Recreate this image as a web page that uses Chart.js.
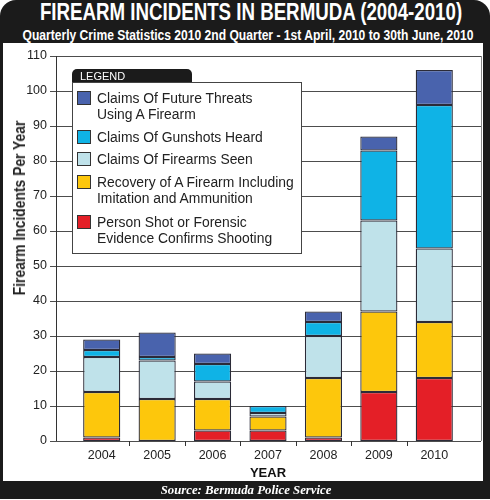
<!DOCTYPE html>
<html>
<head>
<meta charset="utf-8">
<script src="https://cdn.jsdelivr.net/npm/chart.js@4.4.0/dist/chart.umd.min.js"></script>
<style>
  body { margin: 0; width: 490px; height: 500px; position: relative; overflow: hidden; background: #fff;
         font-family: "Liberation Sans", Arial, sans-serif; }
  #frame { position: absolute; left: 0; top: 0; width: 490px; height: 499px; background: #1b1b1b; border-radius: 16px 16px 0 0; }
  #panel { position: absolute; left: 3px; top: 43px; width: 480px; height: 438px; background: #fff; }
  .fit { position: absolute; white-space: nowrap; }
  #title { left: 251px; top: 0px; color: #fff; font-weight: bold; font-size: 23px; }
  #subtitle { left: 248px; top: 25px; color: #fff; font-weight: bold; font-size: 14.5px; }
  #chart { position: absolute; left: 0; top: 0; }
  #ytitle { left: 20px; top: 208px; font-weight: bold; font-size: 16px; color: #222; }
  #legend { position: absolute; left: 72px; top: 82px; width: 228px; height: 170px; border: 1.5px solid #444; background: #fff; }
  #legtab { position: absolute; left: 72px; top: 69px; width: 120px; height: 14px; background: #1b1b1b; border-radius: 5px 5px 0 0;
            color: #fff; font-size: 11px; line-height: 14px; padding-left: 8px; box-sizing: border-box; }
  .item { position: absolute; left: 4px; font-size: 15.5px; line-height: 15.5px; color: #222; }
  .item .sw { position: absolute; left: 0; top: 1px; width: 12px; height: 12px; border: 1px solid #333; }
  .item .tx { position: absolute; left: 20px; top: 0; white-space: nowrap; transform-origin: 0 0; }
  #source { left: 246px; top: 482px; color: #fff; font-family: "Liberation Serif", serif; font-style: italic; font-weight: bold; font-size: 13px; }
</style>
</head>
<body>
<div id="frame"></div>
<div id="panel"></div>
<div id="title" class="fit">FIREARM INCIDENTS IN BERMUDA (2004-2010)</div>
<div id="subtitle" class="fit">Quarterly Crime Statistics 2010 2nd Quarter - 1st April, 2010 to 30th June, 2010</div>
<canvas id="chart" width="490" height="500"></canvas>
<div id="ytitle" class="fit">Firearm Incidents Per Year</div>
<div id="legtab">LEGEND</div>
<div id="legend"></div>
<div id="source" class="fit">Source: Bermuda Police Service</div>
<script>
// Data (bottom of stack first)
const years = ['2004', '2005', '2006', '2007', '2008', '2009', '2010'];
const personShot = [1, 0, 3, 3, 1, 14, 18];
const recovery = [13, 12, 9, 4, 17, 23, 16];
const firearmsSeen = [10, 11, 5, 1, 12, 26, 21];
const gunshotsHeard = [2, 1, 5, 2, 4, 20, 41];
const futureThreats = [3, 7, 3, 0, 3, 4, 10];

const seriesNames = [
    ['Person Shot or Forensic', 'Evidence Confirms Shooting'],
    ['Recovery of A Firearm Including', 'Imitation and Ammunition'],
    ['Claims Of Firearms Seen'],
    ['Claims Of Gunshots Heard'],
    ['Claims Of Future Threats', 'Using A Firearm']
];
const seriesValues = [personShot, recovery, firearmsSeen, gunshotsHeard, futureThreats];
const seriesColors = ['#e41f27', '#fdc70c', '#bfe2ea', '#0fb3e6', '#4963ad'];

const yTicks = { min: 0, max: 110, step: 10 };

const FONT = '"Liberation Sans", Arial, sans-serif';

// squeeze text to the width it has in the picture (condensed type)
function fitWidth(el, width, extra) {
    const s = width / el.scrollWidth;
    el.style.transform = 'translate(-50%, -50%) ' + (extra || '') + ' scaleX(' + s + ')';
}

// grid lines, axis lines and tick marks drawn behind the bars
const frameLines = {
    id: 'frameLines',
    beforeDatasetsDraw(chart) {
        const { ctx, scales: { x, y } } = chart;
        const left = 56, right = 481;
        const top = y.getPixelForValue(yTicks.max);
        const bottom = y.getPixelForValue(yTicks.min);
        ctx.save();
        ctx.lineWidth = 1;
        ctx.strokeStyle = '#4d4d4d';
        y.ticks.forEach(t => {
            const py = Math.round(y.getPixelForValue(t.value)) + 0.5;
            ctx.beginPath();
            ctx.moveTo(left - 6, py);
            ctx.lineTo(right, py);
            ctx.stroke();
        });
        ctx.strokeStyle = '#333';
        ctx.beginPath();
        ctx.moveTo(left + 0.5, top);
        ctx.lineTo(left + 0.5, bottom);
        ctx.stroke();
        ctx.strokeStyle = '#888';
        ctx.beginPath();
        ctx.moveTo(right + 0.5, top);
        ctx.lineTo(right + 0.5, bottom);
        ctx.stroke();
        ctx.strokeStyle = '#333';
        for (let i = 1; i < years.length; i++) {
            const px = Math.round((x.getPixelForValue(i - 1) + x.getPixelForValue(i)) / 2) + 0.5;
            ctx.beginPath();
            ctx.moveTo(px, bottom);
            ctx.lineTo(px, bottom + 5);
            ctx.stroke();
        }
        ctx.restore();
    }
};

const ctx = document.getElementById('chart').getContext('2d');
const chart = new Chart(ctx, {
    type: 'bar',
    data: {
        labels: years,
        datasets: seriesValues.map((vals, i) => ({
            label: seriesNames[i].join(' '),
            data: vals,
            backgroundColor: seriesColors[i],
            borderColor: '#2b2b38',
            borderWidth: 1.3,
            borderSkipped: false,
            barPercentage: 0.67,
            categoryPercentage: 1
        }))
    },
    options: {
        responsive: false,
        animation: false,
        layout: { padding: { left: 0, top: 56, right: 28, bottom: 19 } },
        plugins: {
            legend: { display: false },
            tooltip: { enabled: false }
        },
        scales: {
            x: {
                stacked: true,
                grid: { display: false, drawTicks: false },
                border: { display: false },
                ticks: { color: '#222', padding: 7, font: { family: FONT, size: 12.5 } },
                title: { display: true, text: 'YEAR', color: '#111', padding: 0, font: { family: FONT, size: 13, weight: 'bold' } },
                afterFit: (scale) => { scale.height = 40; }
            },
            y: {
                stacked: true,
                min: yTicks.min,
                max: yTicks.max,
                grid: { display: false, drawTicks: false },
                border: { display: false },
                ticks: { stepSize: yTicks.step, color: '#222', padding: 27, font: { family: FONT, size: 12.5 } },
                afterFit: (scale) => { scale.width = 74; }
            }
        }
    },
    plugins: [frameLines]
});

// legend box, top entry = top of the stack
const itemTops = [7, 46, 68, 91, 131];
const legend = document.getElementById('legend');
const texts = [];
chart.data.datasets.slice().reverse().forEach((ds, k) => {
    const idx = chart.data.datasets.length - 1 - k;
    const item = document.createElement('div');
    item.className = 'item';
    item.style.top = itemTops[k] + 'px';
    const sw = document.createElement('div');
    sw.className = 'sw';
    sw.style.background = ds.backgroundColor;
    const tx = document.createElement('div');
    tx.className = 'tx';
    tx.innerHTML = seriesNames[idx].join('<br>');
    item.appendChild(sw);
    item.appendChild(tx);
    legend.appendChild(item);
    texts.push(tx);
});
const widest = Math.max(...texts.map(t => t.scrollWidth));
texts.forEach(t => { t.style.transform = 'scaleX(' + (197 / widest) + ')'; });

document.getElementById('title').style.top = '12px';
fitWidth(document.getElementById('title'), 422);
document.getElementById('subtitle').style.top = '35px';
fitWidth(document.getElementById('subtitle'), 451);
fitWidth(document.getElementById('ytitle'), 175, 'rotate(-90deg)');
document.getElementById('source').style.top = '490px';
fitWidth(document.getElementById('source'), 171);
</script>
</body>
</html>
